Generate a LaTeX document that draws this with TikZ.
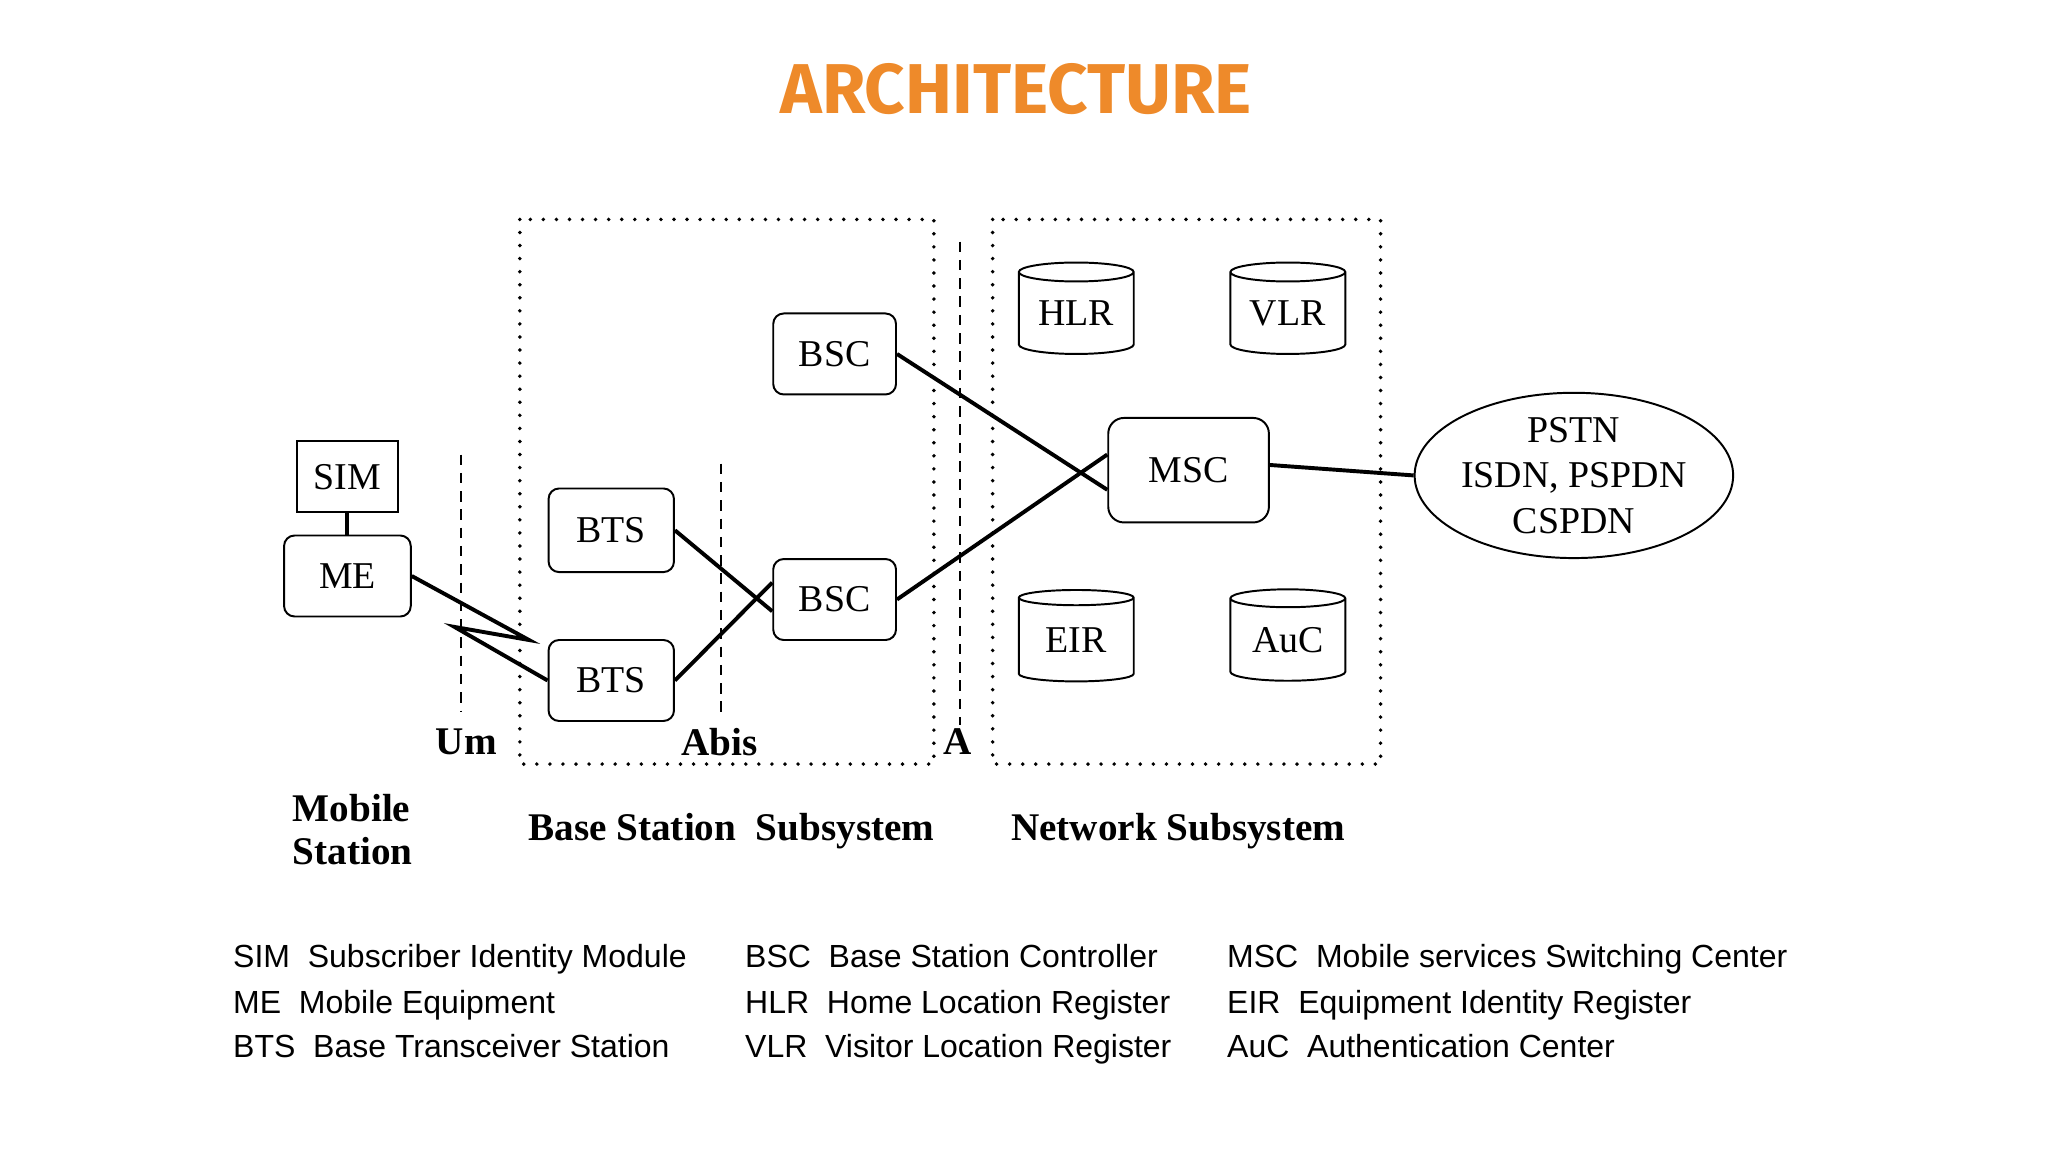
\documentclass[tikz,border=0pt]{standalone}
\usepackage{fontspec}
\setmainfont{Liberation Serif}
\setsansfont{Liberation Sans}
\newfontfamily\titlefont{Fira Sans}
\usetikzlibrary{shapes.geometric}
\definecolor{ttl}{HTML}{EE8A2A}
\begin{document}
\begin{tikzpicture}[x=1pt,y=-1pt,
  box/.style={draw,line width=1.5pt,rounded corners=8pt,inner sep=0,font=\fontsize{29}{34}\selectfont},
  cyl/.style={draw,line width=1.5pt,cylinder,shape border rotate=90,aspect=0.25,minimum width=88pt,minimum height=70pt,inner sep=0,font=\fontsize{29}{34}\selectfont},
  dotbox/.style={line width=3pt,line cap=round,dash pattern=on 0pt off 10pt},
  ifc/.style={line width=1.6pt,dash pattern=on 8pt off 6pt},
  conn/.style={line width=3pt},
  lbl/.style={font=\bfseries\fontsize{30}{33}\selectfont},
  leg/.style={font=\sffamily\fontsize{24.5}{28}\selectfont,anchor=base west}]
\useasboundingbox (0,0) rectangle (1568,882);
\node[text=ttl,font=\titlefont\bfseries\fontsize{54}{60}\selectfont] (title) at (778,68) {ARCHITECTURE};
\draw[dotbox] (398,168) rectangle (715,585);
\draw[dotbox] (760,168) rectangle (1057,585);
\draw[ifc] (353,348) -- (353,545);
\draw[ifc] (552,355) -- (552,545);
\draw[ifc] (735,185) -- (735,555);
\node[draw,line width=1.5pt,minimum width=77pt,minimum height=54pt,inner sep=0,font=\fontsize{29}{34}\selectfont] (sim) at (266,365) {SIM};
\node[box,minimum width=97pt,minimum height=62pt] (me) at (266,441) {ME};
\node[box,minimum width=96pt,minimum height=64pt] (bts1) at (468,406) {BTS};
\node[box,minimum width=96pt,minimum height=62pt] (bts2) at (468,521) {BTS};
\node[box,minimum width=94pt,minimum height=62pt] (bsc1) at (639,271) {BSC};
\node[box,minimum width=94pt,minimum height=62pt] (bsc2) at (639,459) {BSC};
\node[box,minimum width=123pt,minimum height=80pt,rounded corners=12pt] (msc) at (910,360) {MSC};
\node[cyl] (hlr) at (824,240) {HLR};
\node[cyl] (vlr) at (986,240) {VLR};
\node[cyl] (eir) at (824,490) {EIR};
\node[cyl] (auc) at (986,490) {AuC};
\node[draw,line width=1.5pt,ellipse,minimum width=240pt,minimum height=124pt,inner sep=0,align=center,font=\fontsize{29}{35}\selectfont] (pstn) at (1205,364) {PSTN\\ISDN, PSPDN\\CSPDN};
\draw[conn] (sim) -- (me);
\draw[conn] (bsc1.east) -- ([yshift=-15pt]msc.west);
\draw[conn] (bsc2.east) -- ([yshift=12pt]msc.west);
\draw[conn] (bts1.east) -- ([yshift=-9pt]bsc2.west);
\draw[conn] (bts2.east) -- ([yshift=13pt]bsc2.west);
\draw[conn] ([yshift=4pt]msc.east) -- (pstn.west);
\coordinate (z1) at (405,490);
\coordinate (z2) at (348,480);
\draw[conn,line join=miter] (me.east) -- (z1) -- (z2) -- (bts2.west);
\node[lbl] (um) at (357,568) {Um};
\node[lbl] (abis) at (551,568) {Abis};
\node[lbl] (a) at (733,568) {A};
\node[lbl,align=left] (ms) at (270,635) {Mobile\\Station};
\node[lbl] (bss) at (560,636) {Base Station\ \ Subsystem};
\node[lbl] (nss) at (902,636) {Network Subsystem};
\node[leg] (l1) at (175,741) {SIM\ \ Subscriber Identity Module};
\node[leg] (l2) at (175,776) {ME\ \ Mobile Equipment};
\node[leg] (l3) at (175,810) {BTS\ \ Base Transceiver Station};
\node[leg] (l4) at (567,741) {BSC\ \ Base Station Controller};
\node[leg] (l5) at (567,776) {HLR\ \ Home Location Register};
\node[leg] (l6) at (567,810) {VLR\ \ Visitor Location Register};
\node[leg] (l7) at (936,741) {MSC\ \ Mobile services Switching Center};
\node[leg] (l8) at (936,776) {EIR\ \ Equipment Identity Register};
\node[leg] (l9) at (936,810) {AuC\ \ Authentication Center};
\end{tikzpicture}
\end{document}
